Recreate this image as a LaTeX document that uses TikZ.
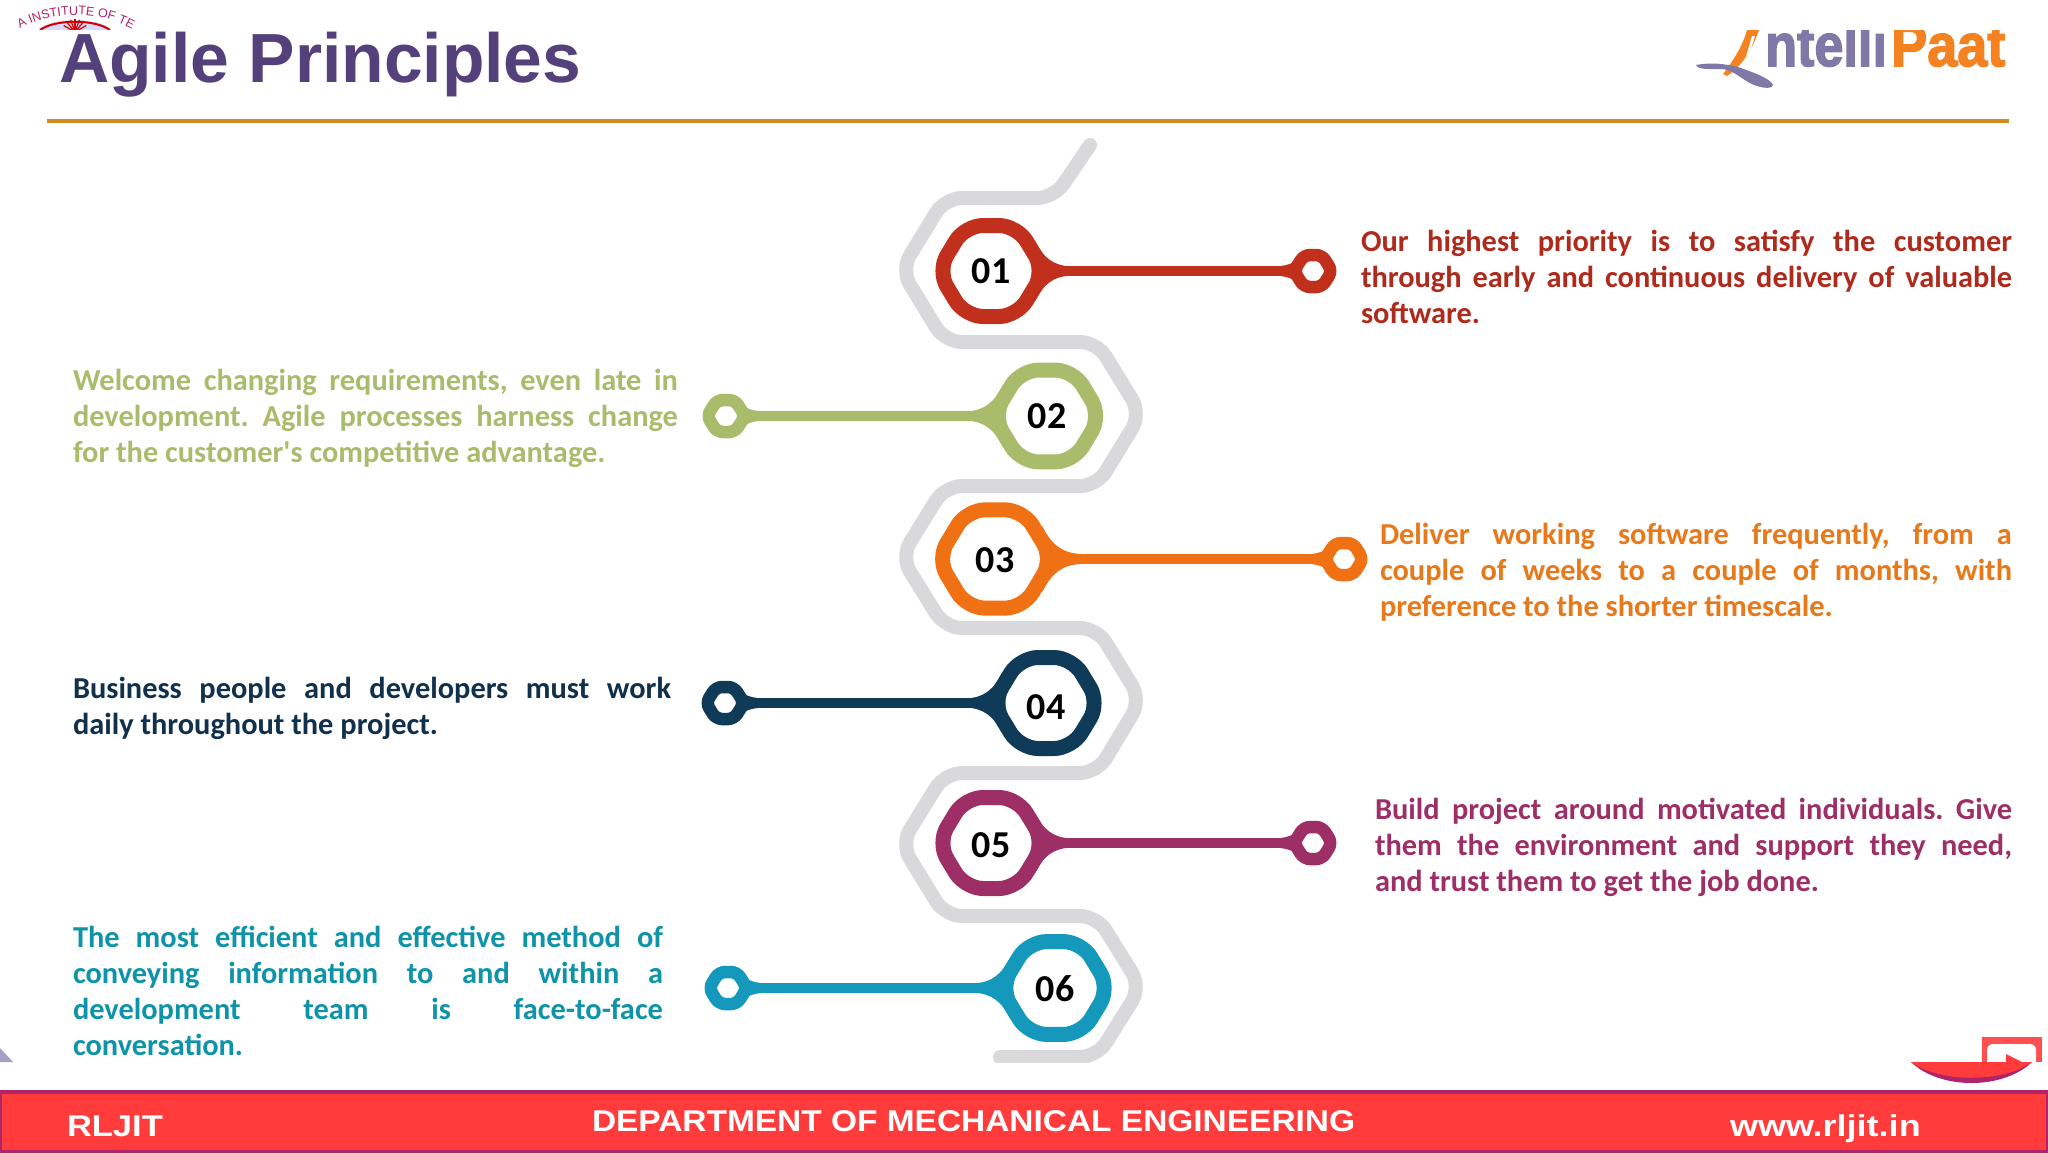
\documentclass[tikz,border=0pt]{standalone}
\usepackage{fontspec}
\setmainfont{Liberation Sans}
\newfontfamily\carl{Carlito}
\newfontfamily\logofont{Liberation Sans}[BoldFeatures={FakeBold=2.5}]
\usetikzlibrary{decorations.text,calc}
\definecolor{cred}{HTML}{C1301C}\definecolor{tred}{HTML}{AE2A1C}
\definecolor{cgreen}{HTML}{A8BC6C}
\definecolor{corange}{HTML}{F07014}\definecolor{torange}{HTML}{E8791A}
\definecolor{cnavy}{HTML}{0F3A58}\definecolor{tnavy}{HTML}{10304C}
\definecolor{cmag}{HTML}{9E2F66}
\definecolor{cteal}{HTML}{1499BC}\definecolor{tteal}{HTML}{0E93A8}
\definecolor{track}{HTML}{D9D9DC}
\definecolor{ttl}{HTML}{54407A}
\definecolor{rulec}{HTML}{D08A20}
\definecolor{barred}{HTML}{FF3B3B}
\definecolor{barline}{HTML}{B0246C}
\definecolor{lpurple}{HTML}{8079A8}
\definecolor{lorange}{HTML}{F58220}
\pgfdeclarelayer{stemlayer}\pgfdeclarelayer{hexlayer}
\pgfsetlayers{stemlayer,hexlayer,main}
\frenchspacing
\newcommand{\jl}[1]{\hbox to \linewidth{#1}}
\newcommand{\para}[5]{% name, x, baseline y, width, colour
  \node[para,text=#5] (#1) at (#2,#3) {\parbox[t]{#4pt}{\parindent=0pt\fontsize{30.4}{36}\selectfont\carl\bfseries\frenchspacing\baselineskip=36pt \paralines}};}
% badge: number, centre x, y, end x, colour, side (1: stem to the right), scale, number drop
\newcommand{\badge}[8]{%
  \node[numlabel] (n#1) at (#2,#3) {\raisebox{-#8pt}{#1}};
  \node[endpt] (e#1) at (#4,#3) {};
  \begin{pgfonlayer}{stemlayer}
    \draw[#5,line width=9.5pt] (n#1) -- (e#1);
    \fill[#5,shift={(n#1.center)},xscale=#6,scale=#7] (28,-28) -- (44,-30) .. controls (52,-14) and (62,-5) .. (80,-4.7) -- (80,4.7) .. controls (62,5) and (52,14) .. (44,30) -- (28,28) -- cycle;
    \fill[#5,shift={(e#1.center)},xscale=#6] (-8,-19) .. controls (-16,-10) and (-22,-5) .. (-38,-4.7) -- (-38,4.7) .. controls (-22,5) and (-16,10) .. (-8,19) -- cycle;
  \end{pgfonlayer}
  \begin{pgfonlayer}{hexlayer}
    \draw[#5,fill=white,line width=15pt,rounded corners=18pt,shift={(n#1.center)},scale=#7] (53.5,0) -- (26,45.5) -- (-26,45.5) -- (-53.5,0) -- (-26,-45.5) -- (26,-45.5) -- cycle;
    \draw[#5,fill=white,line width=12.5pt,rounded corners=6pt,shift={(e#1.center)}] (19,0) -- (9,16) -- (-9,16) -- (-19,0) -- (-9,-16) -- (9,-16) -- cycle;
  \end{pgfonlayer}}
\tikzset{
  para/.style={anchor=base west,inner sep=0pt,outer sep=0pt},
  numlabel/.style={inner sep=0pt,outer sep=0pt,text=black,text height=24pt,text depth=0pt,font=\fontsize{38}{38}\selectfont\carl\bfseries},
  endpt/.style={inner sep=0pt,outer sep=0pt,minimum size=0pt},
  barlabel/.style={inner sep=0pt,outer sep=0pt,anchor=base west,text=white,font=\fontsize{30}{30}\selectfont\bfseries},
}
\begin{document}
\begin{tikzpicture}[x=1pt,y=-1pt]
\useasboundingbox (0,0) rectangle (2048,1152);
\begin{pgfonlayer}{stemlayer}
\fill[white] (0,0) rectangle (2048,1152);
% serpentine track
\begin{scope}
  \clip (0,0) rectangle (2048,1062);
  \draw[track,line width=14pt,rounded corners=17pt,line cap=round]
    (1090,145) -- (1054,198) -- (945,198) -- (901,270) -- (945,342) -- (1097,342)
    -- (1141,414) -- (1097,486) -- (945,486) -- (901,557) -- (945,628) -- (1097,628)
    -- (1141,700) -- (1097,773) -- (945,773) -- (901,844) -- (945,916) -- (1097,916)
    -- (1141,987) -- (1097,1057) -- (1000,1057);
\end{scope}
\end{pgfonlayer}

% top-left emblem
\begin{scope}
  \clip (0,0) rectangle (160,29.5);
  \fill[black!10!blue!15] (75,32) ellipse (36 and 12);
  \draw[red!80!black,line width=2pt] (40,30) .. controls (55,19) and (95,19) .. (110,30);
  \foreach \a in {-60,-40,-20,0,20,40,60}
    \draw[red!85!black,line width=1.2pt] (75,32) -- ++(\a-90:13);
  \path[decorate,decoration={text along path,text align=center,
    text={|\fontsize{12.5}{12.5}\selectfont\color{barline}|A INSTITUTE OF TE}}]
    (10,36) .. controls (42,8) and (108,8) .. (142,36);
\end{scope}

% title and rule
\node[anchor=base west,inner sep=0pt,text=ttl,font=\fontsize{69.6}{70}\selectfont\bfseries] (title) at (59,82) {Agile Principles};
\coordinate (ruleL) at (47,121);
\coordinate (ruleR) at (2009,121);
\draw[rulec,line width=4.5pt] (ruleL) -- (ruleR);

% IntelliPaat logo
\begin{scope}
  \clip (1680,30) rectangle (2040,100);
  \node[anchor=base west,inner sep=0pt,text=lpurple,font=\fontsize{60}{60}\selectfont\logofont\bfseries,xscale=.87,transform shape] (lg1) at (1765,66) {ntelli};
  \node[anchor=base west,inner sep=0pt,text=lorange,font=\fontsize{60}{60}\selectfont\logofont\bfseries,xscale=.9,transform shape] (lg2) at (1891,66) {Paat};
  \fill[lorange] (1747,30) .. controls (1742,48) and (1732,62) .. (1723,74) -- (1727,76) .. controls (1742,66) and (1752,50) .. (1759,30) -- cycle;
  \fill[white] (1752,36) -- (1755,36) -- (1750,52) -- (1745,60) -- cycle;
  \fill[lpurple] (1696,65) .. controls (1712,62) and (1725,64) .. (1738,67) .. controls (1752,72) and (1770,78) .. (1773,85) .. controls (1772,90) and (1758,88) .. (1748,82) .. controls (1738,76) and (1732,70) .. (1722,69) .. controls (1710,69) and (1698,70) .. (1696,65) -- cycle;
\end{scope}

% badges
\badge{01}{991}{271}{1313}{cred}{1}{1}{0}
\badge{02}{1047}{416}{726}{cgreen}{-1}{1.01}{0}
\badge{03}{995}{559}{1344}{corange}{1}{1.08}{1}
\badge{04}{1046}{703}{725}{cnavy}{-1}{1}{4}
\badge{05}{991}{843}{1313}{cmag}{1}{1}{2.5}
\badge{06}{1055}{988}{728}{cteal}{-1}{1.02}{1.5}

% texts
\def\paralines{\jl{Our highest priority is to satisfy the customer}\jl{through early and continuous delivery of valuable}\hbox{software.}}
\para{t1}{1361}{251}{651}{tred}
\def\paralines{\jl{Welcome changing requirements, even late in}\jl{development. Agile processes harness change}\hbox{for the customer's competitive advantage.}}
\para{t2}{73}{390}{605}{cgreen}
\def\paralines{\jl{Deliver working software frequently, from a}\jl{couple of weeks to a couple of months, with}\hbox{preference to the shorter timescale.}}
\para{t3}{1380}{544}{632}{torange}
\def\paralines{\jl{Business people and developers must work}\hbox{daily throughout the project.}}
\para{t4}{73}{698}{598}{tnavy}
\def\paralines{\jl{Build project around motivated individuals. Give}\jl{them the environment and support they need,}\hbox{and trust them to get the job done.}}
\para{t5}{1375}{819}{637}{cmag}
\def\paralines{\jl{The most efficient and effective method of}\jl{conveying information to and within a}\jl{development team is face-to-face}\hbox{conversation.}}
\para{t6}{73}{947}{590}{tteal}

% lower corners
\fill[lpurple!70] (0,1048) -- (13,1062) -- (0,1062) -- cycle;
\begin{scope}
  \clip (1900,1030) rectangle (2048,1062);
  \fill[barred!90!white] (1982,1037) rectangle (2042,1062);
  \fill[white,rounded corners=6pt] (1987,1044) rectangle (2036,1080);
  \fill[barred] (2006,1054) -- (2022,1062) -- (2006,1070) -- cycle;
\end{scope}
\fill[barline] (1911,1062) .. controls (1940,1090) and (2003,1090) .. (2032,1062) -- cycle;
\fill[barred] (1911,1062) .. controls (1940,1083) and (2003,1083) .. (2032,1062) -- cycle;

% footer
\draw[barline,fill=barred,line width=3.5pt] (0,1092) rectangle (2048,1152);
\node[barlabel,xscale=1.15,transform shape] (rl) at (67,1136) {RLJIT};
\node[barlabel,xscale=1.115,transform shape] (dp) at (592,1131) {DEPARTMENT OF MECHANICAL ENGINEERING};
\node[barlabel,xscale=1.2,transform shape] (ww) at (1730,1136) {www.rljit.in};
\end{tikzpicture}
\end{document}
